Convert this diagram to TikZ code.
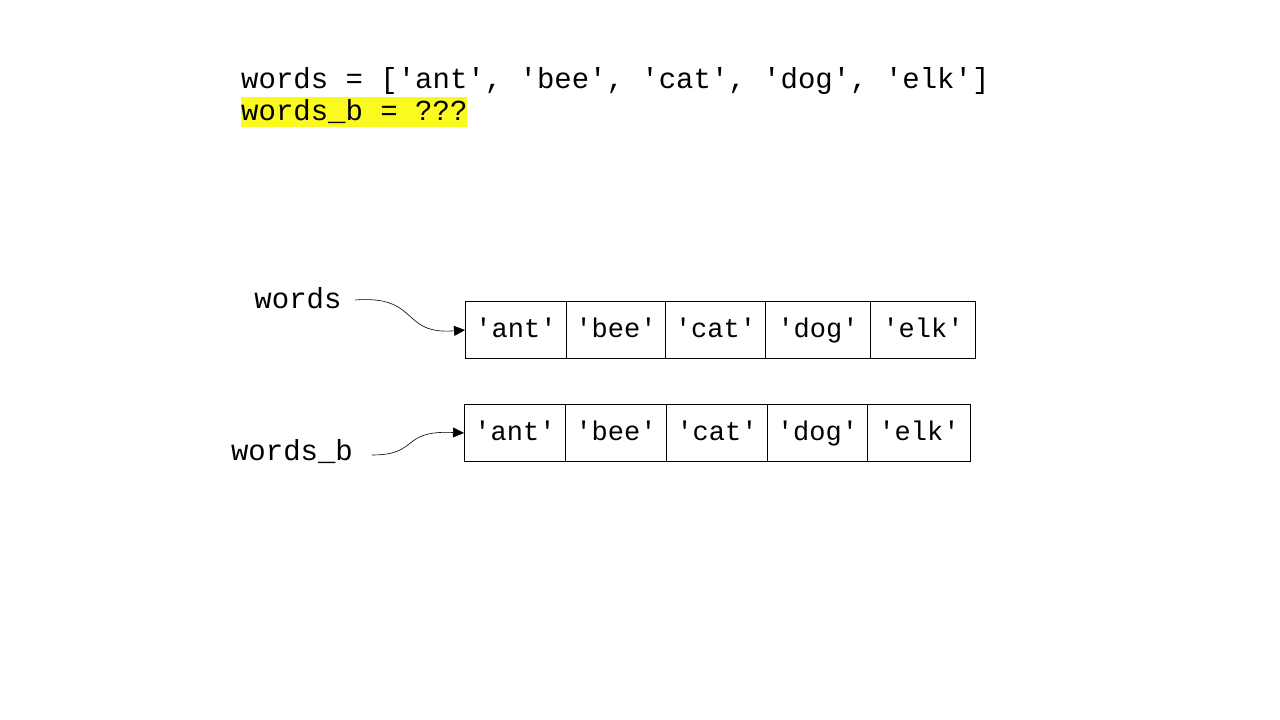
\documentclass[tikz,border=0pt]{standalone}
\usepackage{fontspec}
\setmonofont{Liberation Mono}
\usetikzlibrary{arrows.meta}
\definecolor{hl}{RGB}{250,250,30}
\begin{document}
\begin{tikzpicture}[x=1pt,y=-1pt,
  code/.style={font=\ttfamily\fontsize{29}{29}\selectfont, anchor=base west, inner sep=0},
  cell/.style={draw, line width=1pt, font=\ttfamily\fontsize{27}{27}\selectfont, inner sep=0, anchor=north west, text height=19pt, text depth=5pt},
  lbl/.style={font=\ttfamily\fontsize{29}{29}\selectfont, inner sep=0},
  ptr/.style={-{Triangle[length=11pt,width=10pt]}, line width=0.6pt}]
\useasboundingbox (0,0) rectangle (1280,720);
\fill[hl] (241,97) rectangle (467,127);
\node[code] (l1) at (241,88) {words = ['ant', 'bee', 'cat', 'dog', 'elk']};
\node[code] (l2) at (241,120) {words\_b = ???};
\foreach \i/\a/\b/\t in {1/465/566/ant,2/566/665/bee,3/665/765/cat,4/765/870/dog,5/870/975/elk}{
  \node[cell, minimum width=\b-\a, minimum height=57] (a\i) at (\a,301) {'\t'};
}
\foreach \i/\a/\b/\t in {1/464/565/ant,2/565/666/bee,3/666/767/cat,4/767/867/dog,5/867/970/elk}{
  \node[cell, minimum width=\b-\a, minimum height=57] (b\i) at (\a,404) {'\t'};
}
\node[lbl] (w) at (298,298) {words};
\node[lbl] (wb) at (292,452) {words\_b};
\coordinate (w1) at (355,300);
\coordinate (wb1) at (372,455);
\draw[ptr] (w1) .. controls (420,295) and (400,335) .. (a1.west);
\draw[ptr] (wb1) .. controls (420,455) and (400,430) .. (b1.west);
\end{tikzpicture}
\end{document}
